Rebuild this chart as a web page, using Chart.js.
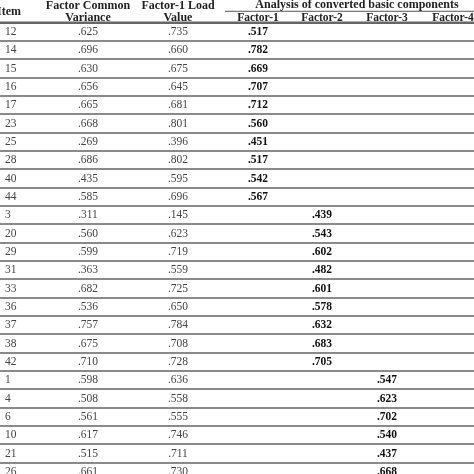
<!DOCTYPE html>
<html>
<head>
<meta charset="utf-8">
<script src="https://cdn.jsdelivr.net/npm/chart.js@4"></script>
<style>
  html, body { margin: 0; padding: 0; background: #fff; }
  #wrap { width: 474px; height: 474px; }
</style>
</head>
<body>
<div id="wrap"><canvas id="table-chart"></canvas></div>
<script>
const items = ['12','14','15','16','17','23','25','28','40','44','3','20','29','31','33','36','37','38','42','1','4','6','10','21','26'];
const commonVariance = ['.625','.696','.630','.656','.665','.668','.269','.686','.435','.585','.311','.560','.599','.363','.682','.536','.757','.675','.710','.598','.508','.561','.617','.515','.661'];
const loadValue = ['.735','.660','.675','.645','.681','.801','.396','.802','.595','.696','.145','.623','.719','.559','.725','.650','.784','.708','.728','.636','.558','.555','.746','.711','.730'];
// which factor column (0-3) each loading goes into
const factorIndex = [0,0,0,0,0,0,0,0,0,0,1,1,1,1,1,1,1,1,1,2,2,2,2,2,2];
const factorLoading = ['.517','.782','.669','.707','.712','.560','.451','.517','.542','.567','.439','.543','.602','.482','.601','.578','.632','.683','.705','.547','.623','.702','.540','.437','.668'];
const factorLabels = ['Factor-1','Factor-2','Factor-3','Factor-4'];

// column centres in x-scale units
const colItem = 5;
const colVar = 88;
const colLoad = 178;
const colFactor = [258, 322, 387, 453];

const serif = '"Liberation Serif", "DejaVu Serif", serif';

const tablePlugin = {
  id: 'tablePlugin',
  afterDraw(chart) {
    const { ctx, scales: { x, y } } = chart;
    ctx.save();
    ctx.textBaseline = 'middle';

    // header
    ctx.fillStyle = '#222';
    ctx.font = `bold 12px ${serif}`;
    ctx.textAlign = 'left';
    ctx.fillText('Item', x.getPixelForValue(-3), y.getPixelForValue(-1.12));
    ctx.textAlign = 'center';
    ctx.fillText('Factor Common', x.getPixelForValue(colVar), y.getPixelForValue(-1.42));
    ctx.fillText('Variance', x.getPixelForValue(colVar), y.getPixelForValue(-0.78));
    ctx.fillText('Factor-1 Load', x.getPixelForValue(colLoad), y.getPixelForValue(-1.42));
    ctx.fillText('Value', x.getPixelForValue(colLoad), y.getPixelForValue(-0.78));
    ctx.fillText('Analysis of converted basic components', x.getPixelForValue(357), y.getPixelForValue(-1.47));
    ctx.font = `bold 11.5px ${serif}`;
    factorLabels.forEach((lab, i) => {
      ctx.fillText(lab, x.getPixelForValue(colFactor[i]), y.getPixelForValue(-0.76));
    });

    // lines
    ctx.strokeStyle = '#555';
    ctx.lineWidth = 1;
    ctx.beginPath();
    ctx.moveTo(x.getPixelForValue(225), y.getPixelForValue(-1.13));
    ctx.lineTo(x.getPixelForValue(474), y.getPixelForValue(-1.13));
    ctx.stroke();
    ctx.lineWidth = 2.5;
    ctx.strokeStyle = '#666';
    ctx.beginPath();
    ctx.moveTo(0, y.getPixelForValue(-0.5));
    ctx.lineTo(chart.width, y.getPixelForValue(-0.5));
    ctx.stroke();
    ctx.lineWidth = 2;
    ctx.strokeStyle = '#8a8a8a';
    for (let i = 0; i < items.length - 1; i++) {
      const py = Math.round(y.getPixelForValue(i + 0.5));
      ctx.beginPath();
      ctx.moveTo(0, py);
      ctx.lineTo(chart.width, py);
      ctx.stroke();
    }

    // rows
    items.forEach((it, i) => {
      const py = y.getPixelForValue(i);
      ctx.fillStyle = '#444';
      ctx.font = `11.5px ${serif}`;
      ctx.textAlign = 'left';
      ctx.fillText(it, x.getPixelForValue(colItem), py);
      ctx.textAlign = 'center';
      ctx.fillText(commonVariance[i], x.getPixelForValue(colVar), py);
      ctx.fillText(loadValue[i], x.getPixelForValue(colLoad), py);
      ctx.fillStyle = '#111';
      ctx.font = `bold 11.5px ${serif}`;
      ctx.fillText(factorLoading[i], x.getPixelForValue(colFactor[factorIndex[i]]), py);
    });
    ctx.restore();
  }
};

new Chart(document.getElementById('table-chart'), {
  type: 'scatter',
  data: {
    datasets: [{
      data: items.map((_, i) => ({ x: colFactor[factorIndex[i]], y: i })),
      pointRadius: 0,
      showLine: false,
    }],
  },
  options: {
    responsive: true,
    maintainAspectRatio: false,
    animation: false,
    layout: { padding: 0 },
    plugins: { legend: { display: false }, tooltip: { enabled: false } },
    scales: {
      x: { type: 'linear', min: 0, max: 474, display: false },
      y: { type: 'linear', min: -1.745, max: 24.11, reverse: true, display: false },
    },
  },
  plugins: [tablePlugin],
});
</script>
</body>
</html>
